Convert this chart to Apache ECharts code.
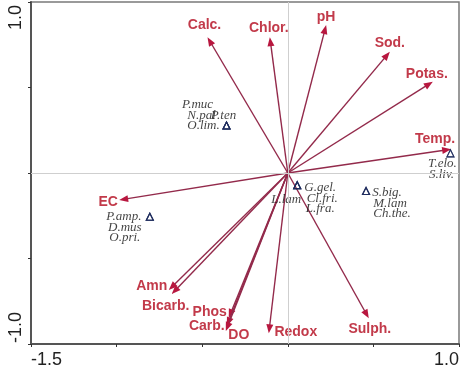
<!DOCTYPE html>
<html>
<head>
<meta charset="utf-8">
<script src="https://cdn.jsdelivr.net/npm/echarts@6/dist/echarts.min.js"></script>
<style>
html,body{margin:0;padding:0;background:#fff;}
#chart{width:474px;height:372px;}
</style>
</head>
<body>
<div id="chart"></div>
<script>
// ---- Data ----
const envNames = ['Calc.','Chlor.','pH','Sod.','Potas.','Temp.','EC','Amn','Bicarb.','Phos','Carb.','DO','Redox','Sulph.'];
const envX = [-0.469,-0.105,0.224,0.596,0.847,0.954,-0.985,-0.695,-0.678,-0.345,-0.356,-0.362,-0.111,0.473];
const envY = [0.794,0.794,0.865,0.709,0.534,0.139,-0.158,-0.684,-0.708,-0.848,-0.895,-0.924,-0.937,-0.850];

const speciesNames = ['P.muc','N.pal','P.ten','O.lim.','P.amp.','D.mus','O.pri.','G.gel.','L.lam','Cl.fri.','L.fra.','S.big.','M.lam','Ch.the.','T.elo.','S.liv.'];
const speciesX = [-0.358,-0.358,-0.358,-0.358,-0.806,-0.806,-0.806,0.055,0.055,0.055,0.055,0.457,0.457,0.457,0.950,0.950];
const speciesY = [0.278,0.278,0.278,0.278,-0.256,-0.256,-0.256,-0.072,-0.072,-0.072,-0.072,-0.105,-0.105,-0.105,0.115,0.115];

const xTickLabels = {'-1.5':'-1.5','1':'1.0'};
const yTickLabels = {'-1':'-1.0','1':'1.0'};

// ---- Label layout (pixel offsets, style only) ----
const envLabelOffset = [[-3,-12],[-1,-9],[0,-8],[0,-9],[-6,-8],[-16,-10],[-11,2],[-17,-4],[-6,12],[-19,-6],[-20,0],[13,4],[27,-1],[1,11]];
const speciesLabelOffset = [[-29,-21],[-25,-10],[-3,-10],[-23,0],[-26,0],[-25,11],[-25,21],[23,2],[-11,14],[25,13],[23,23],[21,2],[24,13],[26,23],[-8,10],[-9,21]];

const chart = echarts.init(document.getElementById('chart'), null, {renderer:'canvas'});

function renderArrow(params, api){
  const i = api.value(2);
  const o = api.coord([0,0]);
  const t = api.coord([api.value(0), api.value(1)]);
  const dx = t[0]-o[0], dy = t[1]-o[1];
  const L = Math.hypot(dx,dy);
  const ux = dx/L, uy = dy/L;
  const hl = 9, hw = 3.5;
  const bx = t[0]-ux*hl, by = t[1]-uy*hl;
  const off = envLabelOffset[i];
  return {
    type:'group',
    children:[
      {type:'line', shape:{x1:o[0],y1:o[1],x2:bx+ux*2,y2:by+uy*2}, style:{stroke:'#932a4b', lineWidth:1.4}},
      {type:'polygon', shape:{points:[[t[0],t[1]],[bx-uy*hw,by+ux*hw],[bx+uy*hw,by-ux*hw]]}, style:{fill:'#b8173f'}},
      {type:'text', style:{text:envNames[i], x:t[0]+off[0], y:t[1]+off[1], fill:'#c23a4a',
        font:'bold 14px "Liberation Sans", Arial, sans-serif', align:'center', verticalAlign:'middle'}}
    ]
  };
}

const axisFont = {fontSize:18, color:'#222', fontFamily:'"Liberation Sans", Arial, sans-serif'};

const option = {
  animation:false,
  backgroundColor:'#fff',
  grid:{left:31,right:15,top:2,bottom:28,show:true,borderColor:'#7a7a7a',borderWidth:1.5},
  xAxis:{
    type:'value', min:-1.5, max:1, interval:0.5,
    axisLine:{show:true,onZero:false,lineStyle:{color:'#555',width:2}},
    axisTick:{show:true,length:3,lineStyle:{color:'#333'}},
    splitLine:{show:false},
    axisLabel:{
      show:true, showMinLabel:true, showMaxLabel:true, margin:7,
      fontSize:18, color:'#222', fontFamily:'"Liberation Sans", Arial, sans-serif',
      formatter:function(v){
        const k = String(v);
        if(k==='-1.5') return '{l|'+xTickLabels[k]+'}';
        if(k==='1') return '{r|'+xTickLabels[k]+'}';
        return '';
      },
      rich:{
        l:Object.assign({padding:[0,0,0,31]},axisFont),
        r:Object.assign({padding:[0,25,0,0]},axisFont)
      }
    }
  },
  yAxis:{
    type:'value', min:-1, max:1, interval:0.5,
    axisLine:{show:true,onZero:false,lineStyle:{color:'#555',width:2}},
    axisTick:{show:true,length:3,lineStyle:{color:'#333'}},
    splitLine:{show:false},
    axisLabel:{
      show:true, showMinLabel:true, showMaxLabel:true, rotate:90, margin:6,
      fontSize:18, color:'#222', fontFamily:'"Liberation Sans", Arial, sans-serif',
      formatter:function(v){
        const k = String(v);
        if(k==='1') return '{t|'+yTickLabels[k]+'}';
        if(k==='-1') return '{b|'+yTickLabels[k]+'}';
        return '';
      },
      rich:{
        t:Object.assign({padding:[0,31,0,0]},axisFont),
        b:Object.assign({padding:[0,0,0,33]},axisFont)
      }
    }
  },
  series:[
    {
      type:'line', data:[], silent:true, z:1,
      markLine:{silent:true, symbol:'none', label:{show:false},
        lineStyle:{color:'#cfcfcf',type:'solid',width:1},
        data:[{xAxis:0},{yAxis:0}]}
    },
    {
      type:'custom', z:3, silent:true,
      renderItem:renderArrow,
      data:envNames.map((n,i)=>[envX[i],envY[i],i])
    },
    {
      type:'scatter', z:4, silent:true,
      symbol:'triangle', symbolSize:7,
      itemStyle:{color:'rgba(255,255,255,0)',borderColor:'#1d2a5c',borderWidth:1.1},
      data:speciesNames.map((n,i)=>({
        value:[speciesX[i],speciesY[i]],
        name:n,
        label:{show:true, position:'inside', offset:speciesLabelOffset[i], formatter:n,
          color:'#111', fontSize:13, fontStyle:'italic',
          fontFamily:'"Liberation Serif", "Times New Roman", serif'}
      }))
    }
  ]
};
chart.setOption(option);
</script>
</body>
</html>
